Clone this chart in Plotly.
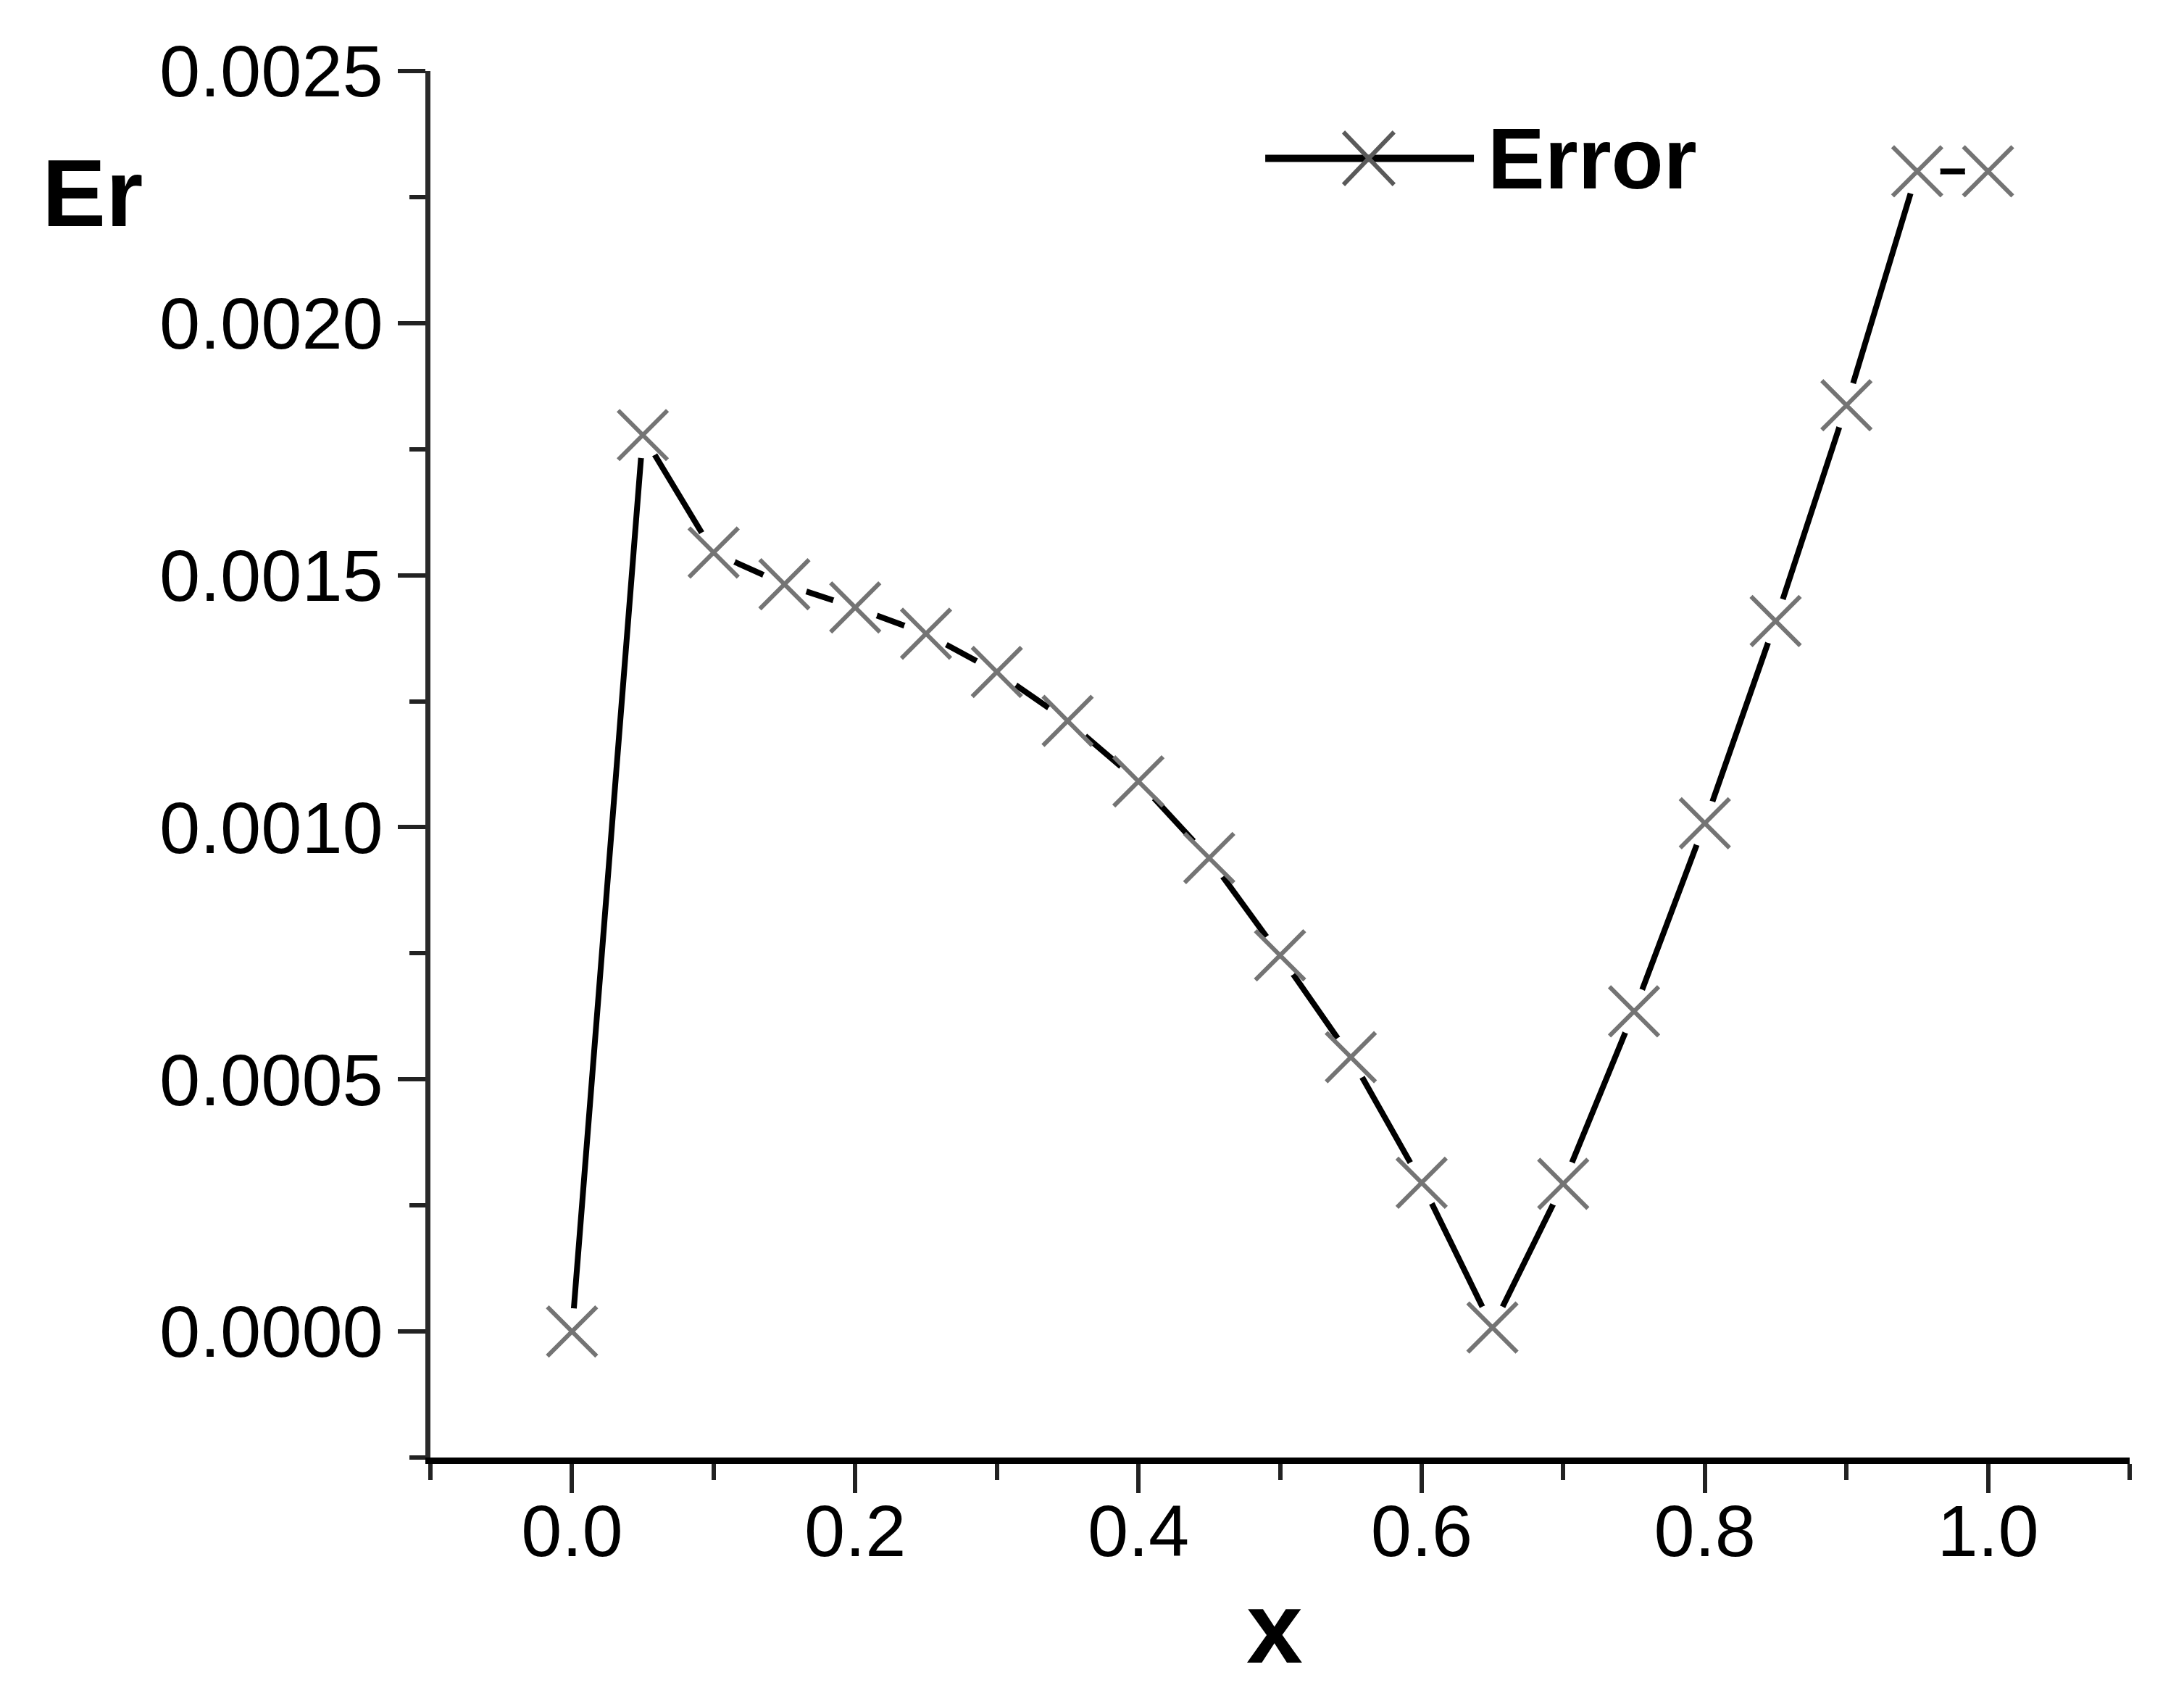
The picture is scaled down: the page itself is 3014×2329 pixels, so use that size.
import plotly.graph_objects as go

# Error values
x_vals = [0.00, 0.05, 0.10, 0.15, 0.20, 0.25, 0.30, 0.35, 0.40, 0.45, 0.50,
          0.55, 0.60, 0.65, 0.70, 0.75, 0.80, 0.85, 0.90, 0.95, 1.00]
err_vals = [0.0000000, 0.0017780, 0.0015450, 0.0014820, 0.0014360, 0.0013840,
            0.0013080, 0.0012110, 0.0010910, 0.0009390, 0.0007460, 0.0005440,
            0.0002950, 0.0000080, 0.0002930, 0.0006350, 0.0010080, 0.0014090,
            0.0018370, 0.0023010, 0.0023010]

x_ticks = [0.0, 0.2, 0.4, 0.6, 0.8, 1.0]
y_ticks = [0.0000, 0.0005, 0.0010, 0.0015, 0.0020, 0.0025]

FONT = "Liberation Sans, Arial, sans-serif"

fig = go.Figure()

# connecting line
fig.add_trace(go.Scatter(x=x_vals, y=err_vals, mode="lines",
                         line=dict(color="black", width=8),
                         hoverinfo="skip", showlegend=False))
# white discs to cut the line around each symbol (Origin style gaps)
fig.add_trace(go.Scatter(x=x_vals, y=err_vals, mode="markers",
                         marker=dict(symbol="circle", size=64, color="white",
                                     line=dict(width=0)),
                         hoverinfo="skip", showlegend=False))
# the cross symbols
fig.add_trace(go.Scatter(x=x_vals, y=err_vals, mode="markers", name="Error",
                         marker=dict(symbol="x-thin", size=68,
                                     line=dict(color="#747474", width=6)),
                         showlegend=False))

# hand drawn legend key: long line with a cross in the middle
leg_y = 0.937
fig.add_shape(type="line", xref="paper", yref="paper",
              x0=0.4913, x1=0.6141, y0=leg_y, y1=leg_y,
              line=dict(color="black", width=10))
cx, cy, hx, hy = 0.5522, leg_y, 0.0149, 0.0190
fig.add_shape(type="path", xref="paper", yref="paper",
              path=f"M{cx-hx},{cy+hy} L{cx+hx},{cy-hy} M{cx-hx},{cy-hy} L{cx+hx},{cy+hy}",
              line=dict(color="#5a5a5a", width=6))
fig.add_annotation(text="<b>Error</b>", xref="paper", yref="paper",
                   x=0.6215, y=leg_y, xanchor="left", yanchor="middle",
                   showarrow=False, font=dict(family=FONT, size=118, color="black"))

# y axis label sits horizontally at the top left
fig.add_annotation(text="<b>Er</b>", xref="paper", yref="paper",
                   x=-0.199, y=0.912, xanchor="center", yanchor="middle",
                   showarrow=False, font=dict(family=FONT, size=132, color="black"))

# x axis label
fig.add_annotation(text="<b>x</b>", xref="paper", yref="paper",
                   x=0.497, y=-0.1228, xanchor="center", yanchor="middle",
                   showarrow=False, font=dict(family=FONT, size=140, color="black"))

fig.update_xaxes(
    range=[-0.1, 1.1], tickvals=x_ticks, tickformat=".1f",
    ticks="outside", ticklen=40, tickwidth=6, tickcolor="#222222",
    minor=dict(dtick=0.1, tick0=0, ticks="outside", ticklen=22, tickwidth=6,
               tickcolor="#222222", showgrid=False),
    showline=True, linecolor="black", linewidth=9, mirror=False,
    showgrid=False, zeroline=False,
    tickfont=dict(family=FONT, size=101, color="black"),
    ticklabelstandoff=-34,
)
fig.update_yaxes(
    range=[-0.00025, 0.0025], tickvals=y_ticks, tickformat=".4f",
    ticks="outside", ticklen=38, tickwidth=6, tickcolor="#222222",
    minor=dict(dtick=0.00025, tick0=0, ticks="outside", ticklen=22, tickwidth=6,
               tickcolor="#222222", showgrid=False),
    showline=True, linecolor="#2a2a2a", linewidth=7, mirror=False,
    showgrid=False, zeroline=False,
    tickfont=dict(family=FONT, size=101, color="black"),
)

fig.update_layout(
    width=3014, height=2329,
    margin=dict(l=586, r=83, t=90, b=326),
    paper_bgcolor="white", plot_bgcolor="white",
    showlegend=False,
)

fig.write_html("out.html")
